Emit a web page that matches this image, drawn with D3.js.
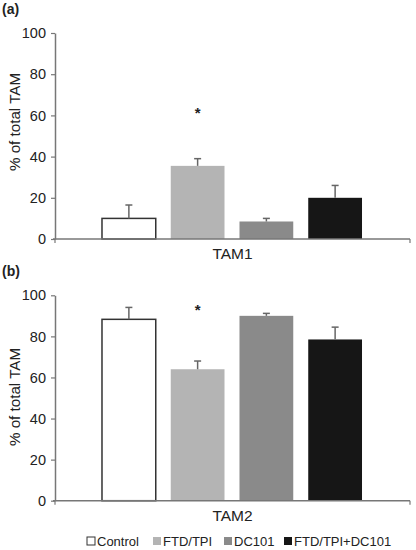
<!DOCTYPE html>
<html>
<head>
<meta charset="utf-8">
<script src="https://cdn.jsdelivr.net/npm/d3@7"></script>
<style>
  body { margin: 0; background: #fff; }
  text { font-family: "Liberation Sans", Arial, sans-serif; fill: #222; }
</style>
</head>
<body>
<svg width="416" height="550"></svg>
<script>
var WIDTH = 416;
var HEIGHT = 550;

//treatment groups and their fills
var groups = ["Control", "FTD/TPI", "DC101", "FTD/TPI+DC101"];
var fills = ["#ffffff", "#b4b4b4", "#8a8a8a", "#161616"];

//panel labels and x axis labels
var panels = ["(a)", "(b)"];
var xLabels = ["TAM1", "TAM2"];

//mean values and upper error values per panel
var tam1Means = [10, 35.5, 8.5, 20];
var tam1Errors = [6.5, 3.5, 1.5, 6];
var tam2Means = [88.3, 64, 90, 78.5];
var tam2Errors = [5.8, 4, 1.2, 6];

//significance stars: which group and at what height
var starGroup = "FTD/TPI";
var starValues = [62, 94];

var yTicks = [0, 20, 40, 60, 80, 100];

var FONT = "'Liberation Sans', Arial, sans-serif";

var svg = d3.select("svg")
    .attr("width", WIDTH)
    .attr("height", HEIGHT);

var x = d3.scaleBand()
    .domain(groups)
    .range([94.5, 369.5])
    .paddingInner(0.218)
    .paddingOuter(0.109);

var color = d3.scaleOrdinal().domain(groups).range(fills);

//panel layout (pixel boxes)
var panelData = [
    {means: tam1Means, errors: tam1Errors, top: 33, bottom: 239, labelY: 122},
    {means: tam2Means, errors: tam2Errors, top: 295.3, bottom: 500.7, labelY: 397}
];

var AXIS = "#777";
var x0 = 55, x1 = 410;

panelData.forEach(function(p, i) {
    var y = d3.scaleLinear().domain([0, 100]).range([p.bottom, p.top]);
    var g = svg.append("g");

    //panel letter
    g.append("text")
        .attr("x", 2)
        .attr("y", p.top - 19)
        .style("font-size", "14px")
        .style("font-weight", "bold")
        .text(panels[i]);

    //bars
    g.selectAll("rect.bar")
        .data(groups)
        .enter()
        .append("rect")
        .attr("class", "bar")
        .attr("x", function(d) { return x(d); })
        .attr("width", x.bandwidth())
        .attr("y", function(d, j) { return y(p.means[j]); })
        .attr("height", function(d, j) { return y(0) - y(p.means[j]); })
        .attr("fill", function(d) { return color(d); })
        .attr("stroke", function(d) { return d === "Control" ? "#333" : "none"; })
        .attr("stroke-width", 1.5);

    //error bars (upper only)
    var err = g.selectAll("g.err")
        .data(groups)
        .enter()
        .append("g")
        .attr("stroke", "#666")
        .attr("stroke-width", 1.5);
    err.append("line")
        .attr("x1", function(d) { return x(d) + x.bandwidth() / 2; })
        .attr("x2", function(d) { return x(d) + x.bandwidth() / 2; })
        .attr("y1", function(d, j) { return y(p.means[j]); })
        .attr("y2", function(d, j) { return y(p.means[j] + p.errors[j]); });
    err.append("line")
        .attr("x1", function(d) { return x(d) + x.bandwidth() / 2 - 3.5; })
        .attr("x2", function(d) { return x(d) + x.bandwidth() / 2 + 3.5; })
        .attr("y1", function(d, j) { return y(p.means[j] + p.errors[j]); })
        .attr("y2", function(d, j) { return y(p.means[j] + p.errors[j]); });

    //star
    g.append("text")
        .attr("x", x(starGroup) + x.bandwidth() / 2)
        .attr("y", y(starValues[i]) + 7)
        .attr("text-anchor", "middle")
        .style("font-size", "15px")
        .style("font-weight", "bold")
        .text("*");

    //y axis
    var yAxis = d3.axisLeft(y).tickValues(yTicks).tickSize(4).tickSizeOuter(0).tickPadding(5);
    var ya = g.append("g")
        .attr("transform", "translate(" + x0 + ",0)")
        .call(yAxis);
    ya.select(".domain").attr("stroke", AXIS).attr("stroke-width", 1.5);
    ya.selectAll(".tick line").attr("stroke", AXIS).attr("stroke-width", 1.2);
    ya.selectAll(".tick text")
        .style("font-size", "14.5px")
        .style("font-family", FONT)
        .attr("fill", "#222");

    //x axis line with end ticks
    g.append("line")
        .attr("x1", x0 - 2).attr("x2", x1)
        .attr("y1", y(0)).attr("y2", y(0))
        .attr("stroke", AXIS).attr("stroke-width", 1.5);
    [x0, x1].forEach(function(xx) {
        g.append("line")
            .attr("x1", xx).attr("x2", xx)
            .attr("y1", y(0)).attr("y2", y(0) + 4)
            .attr("stroke", AXIS).attr("stroke-width", 1.2);
    });

    //x label
    g.append("text")
        .attr("x", (x0 + x1) / 2)
        .attr("y", y(0) + 20)
        .attr("text-anchor", "middle")
        .style("font-size", "15.5px")
        .text(xLabels[i]);

    //y label
    g.append("text")
        .attr("transform", "translate(20," + p.labelY + ") rotate(-90)")
        .attr("text-anchor", "middle")
        .style("font-size", "15.2px")
        .text("% of total TAM");
});

//legend
var legendX = [87, 153, 224, 284];
var leg = svg.append("g")
    .selectAll("g")
    .data(groups)
    .enter()
    .append("g")
    .attr("transform", function(d, i) { return "translate(" + legendX[i] + ",537)"; });
leg.append("rect")
    .attr("width", 8)
    .attr("height", 8)
    .attr("fill", function(d) { return color(d); })
    .attr("stroke", function(d) { return d === "Control" ? "#333" : "none"; })
    .attr("stroke-width", 1);
leg.append("text")
    .attr("x", 10)
    .attr("y", 9)
    .style("font-size", "13px")
    .text(function(d) { return d; });
</script>
</body>
</html>
